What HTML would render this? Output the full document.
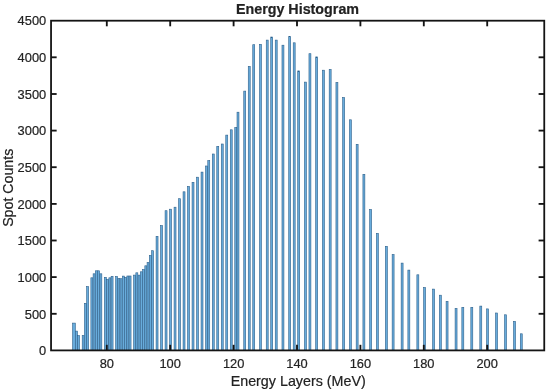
<!DOCTYPE html>
<html lang="en"><head><meta charset="utf-8"><title>Energy Histogram</title>
<style>html,body{margin:0;padding:0;background:#fff}body{width:550px;height:391px;overflow:hidden}svg{display:block}text{font-family:"Liberation Sans",Arial,Helvetica,sans-serif;fill:#222;stroke:#222;stroke-width:0.2px}</style></head><body>
<svg width="550" height="391" viewBox="0 0 550 391">
<rect width="550" height="391" fill="#fff"/>
<g fill="#68acdc" stroke="#2c5f8a" stroke-width="0.6">
<rect x="72.60" y="323.1" width="2.70" height="27.3"/>
<rect x="75.30" y="331.1" width="2.25" height="19.3"/>
<rect x="77.55" y="335.5" width="2.00" height="14.9"/>
<rect x="82.20" y="335.5" width="1.95" height="14.9"/>
<rect x="84.45" y="303.3" width="1.95" height="47.1"/>
<rect x="86.65" y="286.6" width="1.95" height="63.8"/>
<rect x="90.88" y="277.8" width="1.95" height="72.6"/>
<rect x="93.13" y="273.8" width="1.95" height="76.6"/>
<rect x="95.38" y="270.8" width="1.95" height="79.6"/>
<rect x="97.63" y="270.8" width="1.95" height="79.6"/>
<rect x="99.88" y="273.8" width="1.95" height="76.6"/>
<rect x="104.37" y="277.3" width="1.95" height="73.1"/>
<rect x="106.62" y="279.5" width="1.95" height="70.9"/>
<rect x="108.87" y="277.8" width="1.95" height="72.6"/>
<rect x="111.12" y="276.3" width="1.95" height="74.1"/>
<rect x="115.61" y="276.5" width="1.95" height="73.9"/>
<rect x="117.86" y="278.5" width="1.95" height="71.9"/>
<rect x="120.11" y="278.7" width="1.95" height="71.7"/>
<rect x="122.36" y="276.1" width="1.95" height="74.3"/>
<rect x="124.61" y="277.3" width="1.95" height="73.1"/>
<rect x="126.86" y="276.0" width="1.95" height="74.4"/>
<rect x="129.10" y="276.0" width="1.95" height="74.4"/>
<rect x="133.60" y="275.1" width="1.95" height="75.3"/>
<rect x="135.85" y="272.8" width="1.95" height="77.6"/>
<rect x="138.10" y="275.1" width="1.95" height="75.3"/>
<rect x="140.35" y="271.8" width="1.95" height="78.6"/>
<rect x="142.59" y="269.6" width="1.95" height="80.8"/>
<rect x="144.84" y="265.8" width="1.95" height="84.6"/>
<rect x="147.09" y="262.6" width="1.95" height="87.8"/>
<rect x="149.34" y="255.5" width="1.95" height="94.9"/>
<rect x="151.59" y="250.7" width="1.95" height="99.7"/>
<rect x="156.08" y="236.3" width="1.95" height="114.1"/>
<rect x="160.58" y="225.6" width="1.95" height="124.8"/>
<rect x="165.08" y="210.7" width="1.95" height="139.7"/>
<rect x="169.57" y="209.2" width="1.95" height="141.2"/>
<rect x="174.07" y="207.2" width="1.95" height="143.2"/>
<rect x="178.56" y="198.7" width="1.95" height="151.7"/>
<rect x="183.06" y="191.8" width="1.95" height="158.6"/>
<rect x="187.56" y="186.4" width="1.95" height="164.0"/>
<rect x="192.05" y="182.3" width="1.95" height="168.1"/>
<rect x="196.55" y="177.2" width="1.95" height="173.2"/>
<rect x="201.05" y="172.1" width="1.95" height="178.3"/>
<rect x="205.54" y="166.0" width="1.95" height="184.4"/>
<rect x="207.79" y="160.6" width="1.95" height="189.8"/>
<rect x="212.29" y="154.0" width="1.95" height="196.4"/>
<rect x="216.78" y="146.3" width="1.95" height="204.1"/>
<rect x="221.28" y="144.0" width="1.95" height="206.4"/>
<rect x="225.78" y="135.1" width="1.95" height="215.3"/>
<rect x="230.27" y="129.8" width="1.95" height="220.6"/>
<rect x="234.77" y="127.5" width="1.95" height="222.9"/>
<rect x="237.02" y="112.2" width="1.95" height="238.2"/>
<rect x="243.76" y="91.1" width="1.95" height="259.3"/>
<rect x="248.26" y="66.4" width="1.95" height="284.0"/>
<rect x="252.76" y="44.7" width="1.95" height="305.7"/>
<rect x="259.50" y="44.3" width="1.95" height="306.1"/>
<rect x="266.24" y="40.1" width="1.95" height="310.3"/>
<rect x="270.74" y="37.0" width="1.95" height="313.4"/>
<rect x="275.24" y="40.1" width="1.95" height="310.3"/>
<rect x="281.98" y="45.2" width="1.95" height="305.2"/>
<rect x="288.73" y="36.6" width="1.95" height="313.8"/>
<rect x="293.22" y="42.8" width="1.95" height="307.6"/>
<rect x="297.72" y="70.9" width="1.95" height="279.5"/>
<rect x="304.46" y="82.1" width="1.95" height="268.3"/>
<rect x="308.96" y="53.7" width="1.95" height="296.7"/>
<rect x="315.70" y="56.9" width="1.95" height="293.5"/>
<rect x="322.45" y="70.2" width="1.95" height="280.2"/>
<rect x="329.19" y="69.5" width="1.95" height="280.9"/>
<rect x="335.94" y="82.5" width="1.95" height="267.9"/>
<rect x="342.68" y="97.5" width="1.95" height="252.9"/>
<rect x="349.43" y="119.8" width="1.95" height="230.6"/>
<rect x="356.17" y="144.3" width="1.95" height="206.1"/>
<rect x="362.92" y="174.3" width="1.95" height="176.1"/>
<rect x="369.66" y="209.5" width="1.95" height="140.9"/>
<rect x="376.41" y="233.4" width="1.95" height="117.0"/>
<rect x="385.40" y="246.3" width="1.95" height="104.1"/>
<rect x="392.14" y="254.6" width="1.95" height="95.8"/>
<rect x="401.14" y="263.1" width="1.95" height="87.3"/>
<rect x="407.88" y="270.1" width="1.95" height="80.3"/>
<rect x="416.87" y="274.8" width="1.95" height="75.6"/>
<rect x="423.62" y="287.5" width="1.95" height="62.9"/>
<rect x="432.61" y="289.1" width="1.95" height="61.3"/>
<rect x="439.36" y="295.2" width="1.95" height="55.2"/>
<rect x="446.10" y="301.4" width="1.95" height="49.0"/>
<rect x="455.09" y="308.5" width="1.95" height="41.9"/>
<rect x="461.84" y="307.3" width="1.95" height="43.1"/>
<rect x="470.83" y="307.3" width="1.95" height="43.1"/>
<rect x="479.82" y="306.1" width="1.95" height="44.3"/>
<rect x="486.57" y="308.9" width="1.95" height="41.5"/>
<rect x="495.56" y="313.0" width="1.95" height="37.4"/>
<rect x="504.55" y="314.8" width="1.95" height="35.6"/>
<rect x="513.55" y="321.4" width="1.95" height="29.0"/>
<rect x="520.29" y="333.8" width="1.95" height="16.6"/>
</g>
<rect x="51.05" y="20.7" width="493.2" height="329.7" fill="none" stroke="#141414" stroke-width="1.8"/>
<g stroke="#141414" stroke-width="1.85">
<line x1="106.8" y1="350.4" x2="106.8" y2="344.79999999999995"/>
<line x1="106.8" y1="20.7" x2="106.8" y2="26.299999999999997"/>
<line x1="170.2" y1="350.4" x2="170.2" y2="344.79999999999995"/>
<line x1="170.2" y1="20.7" x2="170.2" y2="26.299999999999997"/>
<line x1="233.6" y1="350.4" x2="233.6" y2="344.79999999999995"/>
<line x1="233.6" y1="20.7" x2="233.6" y2="26.299999999999997"/>
<line x1="297.0" y1="350.4" x2="297.0" y2="344.79999999999995"/>
<line x1="297.0" y1="20.7" x2="297.0" y2="26.299999999999997"/>
<line x1="360.4" y1="350.4" x2="360.4" y2="344.79999999999995"/>
<line x1="360.4" y1="20.7" x2="360.4" y2="26.299999999999997"/>
<line x1="423.8" y1="350.4" x2="423.8" y2="344.79999999999995"/>
<line x1="423.8" y1="20.7" x2="423.8" y2="26.299999999999997"/>
<line x1="487.2" y1="350.4" x2="487.2" y2="344.79999999999995"/>
<line x1="487.2" y1="20.7" x2="487.2" y2="26.299999999999997"/>
<line x1="51.05" y1="313.8" x2="56.65" y2="313.8"/>
<line x1="544.2" y1="313.8" x2="538.6" y2="313.8"/>
<line x1="51.05" y1="277.1" x2="56.65" y2="277.1"/>
<line x1="544.2" y1="277.1" x2="538.6" y2="277.1"/>
<line x1="51.05" y1="240.5" x2="56.65" y2="240.5"/>
<line x1="544.2" y1="240.5" x2="538.6" y2="240.5"/>
<line x1="51.05" y1="203.9" x2="56.65" y2="203.9"/>
<line x1="544.2" y1="203.9" x2="538.6" y2="203.9"/>
<line x1="51.05" y1="167.2" x2="56.65" y2="167.2"/>
<line x1="544.2" y1="167.2" x2="538.6" y2="167.2"/>
<line x1="51.05" y1="130.6" x2="56.65" y2="130.6"/>
<line x1="544.2" y1="130.6" x2="538.6" y2="130.6"/>
<line x1="51.05" y1="94.0" x2="56.65" y2="94.0"/>
<line x1="544.2" y1="94.0" x2="538.6" y2="94.0"/>
<line x1="51.05" y1="57.3" x2="56.65" y2="57.3"/>
<line x1="544.2" y1="57.3" x2="538.6" y2="57.3"/>
</g>
<g font-size="12.85" text-anchor="middle">
<text x="106.8" y="367.7">80</text>
<text x="170.2" y="367.7">100</text>
<text x="233.6" y="367.7">120</text>
<text x="297.0" y="367.7">140</text>
<text x="360.4" y="367.7">160</text>
<text x="423.8" y="367.7">180</text>
<text x="487.2" y="367.7">200</text>
</g>
<g font-size="12.85" text-anchor="end">
<text x="46.2" y="355.1">0</text>
<text x="46.2" y="318.5">500</text>
<text x="46.2" y="281.8">1000</text>
<text x="46.2" y="245.2">1500</text>
<text x="46.2" y="208.6">2000</text>
<text x="46.2" y="171.9">2500</text>
<text x="46.2" y="135.3">3000</text>
<text x="46.2" y="98.7">3500</text>
<text x="46.2" y="62.0">4000</text>
<text x="46.2" y="25.4">4500</text>
</g>
<text x="297.5" y="13.9" font-size="14.3" font-weight="bold" text-anchor="middle" fill="#000" stroke="none">Energy Histogram</text>
<text x="298.2" y="385.6" font-size="14.3" text-anchor="middle">Energy Layers (MeV)</text>
<text transform="translate(13.2,187.8) rotate(-90)" font-size="14.2" text-anchor="middle">Spot Counts</text>
</svg></body></html>
